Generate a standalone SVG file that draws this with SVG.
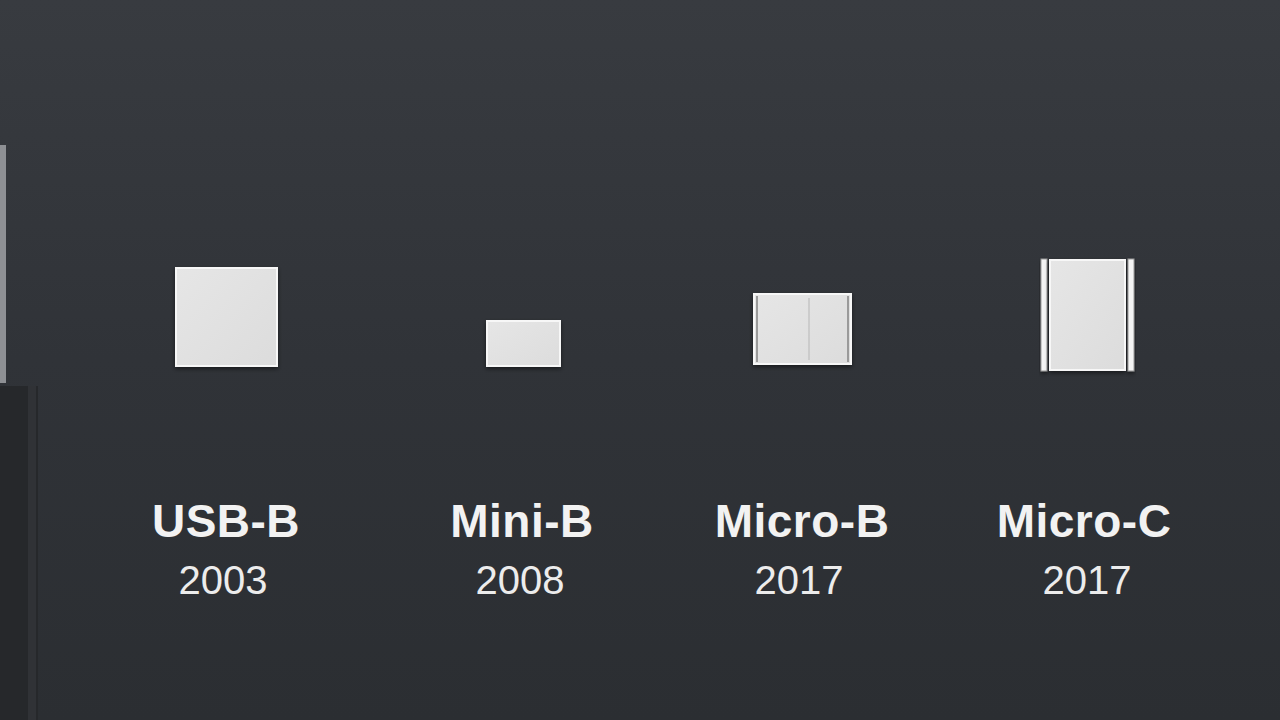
<svg xmlns="http://www.w3.org/2000/svg" width="1280" height="720" viewBox="0 0 1280 720">
<defs>
<linearGradient id="bg" x1="0" y1="0" x2="0" y2="1">
<stop offset="0" stop-color="#383b40"/>
<stop offset="0.5" stop-color="#303338"/>
<stop offset="1" stop-color="#2b2e32"/>
</linearGradient>
<linearGradient id="face" x1="0" y1="0" x2="1" y2="1">
<stop offset="0" stop-color="#e6e6e6"/>
<stop offset="1" stop-color="#dcdcdc"/>
</linearGradient>
<filter id="shadow" x="-20%" y="-20%" width="140%" height="140%">
<feDropShadow dx="0" dy="2" stdDeviation="2" flood-color="#000" flood-opacity="0.5"/>
</filter>
</defs>
<style>
.name{font-family:"Liberation Sans",Arial,sans-serif;font-weight:700;font-size:46px;fill:#f2f2f2;text-anchor:middle;letter-spacing:0.5px}
.year{font-family:"Liberation Sans",Arial,sans-serif;font-weight:400;font-size:40px;fill:#ececec;text-anchor:middle}
.face{fill:url(#face);stroke:#f7f7f7;stroke-width:2}
.edge{fill:#f4f4f4;stroke:#9a9a9a;stroke-width:1}
</style>
<rect width="1280" height="720" fill="url(#bg)"/>
<rect x="0" y="145" width="6" height="238" fill="#8e9094"/>
<rect x="0" y="386" width="38" height="334" fill="#26282b"/>
<rect x="28" y="386" width="8" height="334" fill="#303236"/>

<g id="usb-b">
<rect class="face" x="176" y="268" width="101" height="98" filter="url(#shadow)"/>
<text class="name" x="226" y="537">USB-B</text>
<text class="year" x="223" y="594">2003</text>
</g>
<g id="mini-b">
<rect class="face" x="487" y="321" width="73" height="45" filter="url(#shadow)"/>
<text class="name" x="522" y="537">Mini-B</text>
<text class="year" x="520" y="594">2008</text>
</g>
<g id="micro-b">
<rect class="face" x="754" y="294" width="97" height="70" filter="url(#shadow)"/>
<line x1="757" y1="296" x2="757" y2="362" stroke="#9a9a9a" stroke-width="2"/>
<line x1="848" y1="296" x2="848" y2="362" stroke="#9a9a9a" stroke-width="2"/>
<line x1="809" y1="298" x2="809" y2="360" stroke="#c4c4c4" stroke-width="1.5"/>
<text class="name" x="802" y="537">Micro-B</text>
<text class="year" x="799" y="594">2017</text>
</g>
<g id="micro-c">
<rect class="edge" x="1041" y="259" width="6" height="112" filter="url(#shadow)"/>
<rect class="face" x="1050" y="260" width="75" height="110" filter="url(#shadow)"/>
<rect class="edge" x="1128" y="259" width="6" height="112" filter="url(#shadow)"/>
<text class="name" x="1084" y="537">Micro-C</text>
<text class="year" x="1087" y="594">2017</text>
</g>
</svg>
